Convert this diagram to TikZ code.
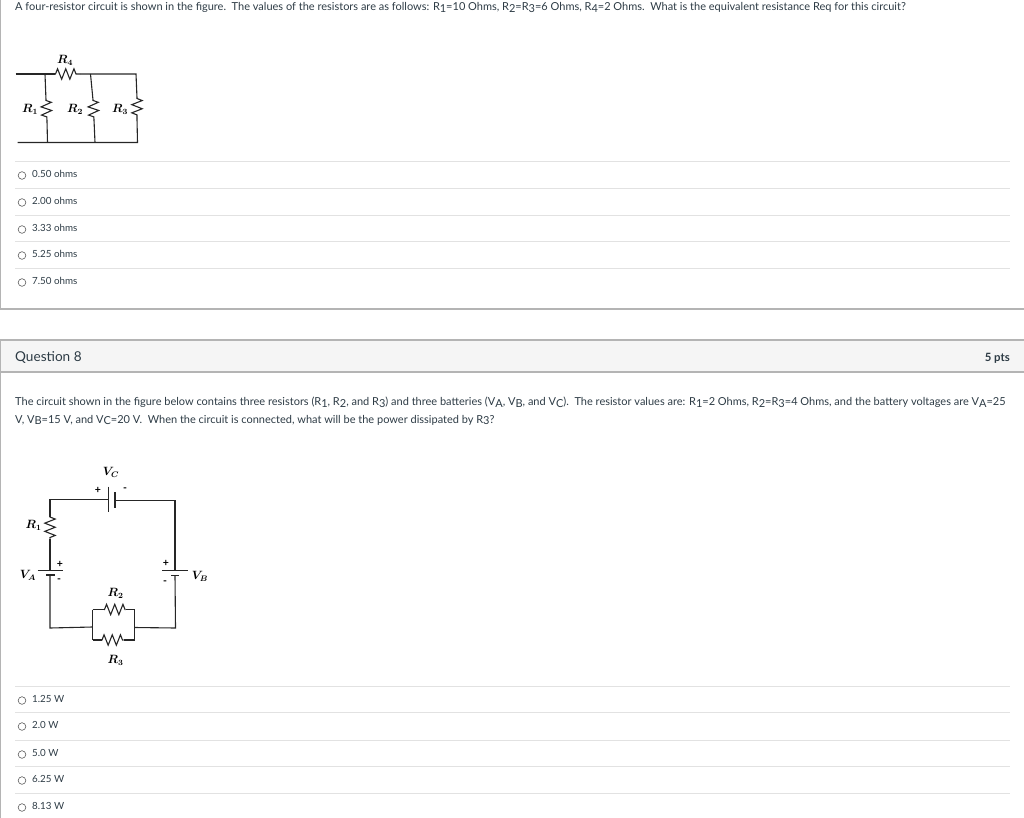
\documentclass[tikz,border=0pt]{standalone}
\usepackage{fontspec}
\setmainfont{Lato}
\usetikzlibrary{decorations.pathmorphing}
\definecolor{framegray}{HTML}{B4B4B4}
\definecolor{rulegray}{HTML}{E2E2E2}
\definecolor{headgray}{HTML}{F5F5F5}
\definecolor{inkgray}{HTML}{2D3B45}
\newcommand{\lowsub}[1]{\raisebox{-1.6pt}{#1}}
\tikzset{
  wire/.style={line width=1.1pt, black!85},
  resistor/.style={wire, decorate, decoration={zigzag, amplitude=5.2pt, segment length=8.2pt, pre length=0.5pt, post length=0.5pt}},
  plate/.style={line width=1.2pt, black!85},
  frame/.style={line width=1.2pt, framegray},
  rowrule/.style={line width=0.7pt, rulegray},
  bodytext/.style={anchor=base west, inner sep=0pt, text=inkgray, font=\fontsize{11}{13}\selectfont},
  choicetext/.style={anchor=west, inner sep=0pt, text=inkgray, font=\fontsize{9.8}{11}\selectfont},
  radio/.style={line width=0.6pt, black!65},
  partlabel/.style={inner sep=0pt, font=\fontsize{11.5}{13}\selectfont\boldmath},
  signlabel/.style={inner sep=0pt, font=\bfseries\fontsize{10.5}{11}\selectfont}
}
\begin{document}
\begin{tikzpicture}[x=1pt,y=-1pt]
    \useasboundingbox (0,0) rectangle (1024,818);

    % --- Panels ---
    \fill[headgray] (0,340) rectangle (1024,372);
    \draw[frame] (0.5,0) -- (0.5,309) -- (1024,309);
    \draw[frame] (0.5,818) -- (0.5,340) -- (1024,340);
    \draw[frame] (0.5,372) -- (1024,372);

    % --- First question ---
    \node[bodytext] (textA) at (15,10.8) {A four-resistor circuit is shown in the figure.\ \ The values of the resistors are as follows: R\lowsub{1}=10 Ohms, R\lowsub{2}=R\lowsub{3}=6 Ohms, R\lowsub{4}=2 Ohms.\ \ What is the equivalent resistance Req for this circuit?};

    % Wire corners of the first circuit
    \coordinate (inT) at (15.5,74);
    \coordinate (inB) at (17.5,142.5);
    \coordinate (r4L) at (55,74);
    \coordinate (r4R) at (80,74);
    \coordinate (t1) at (45,74);
    \coordinate (t2) at (90.5,74);
    \coordinate (t3) at (136,74);
    \coordinate (a1) at (46,100);
    \coordinate (b1) at (47,121);
    \coordinate (c1) at (47.5,142.5);
    \coordinate (a2) at (93,100);
    \coordinate (b2) at (94,120);
    \coordinate (c2) at (95,142.5);
    \coordinate (a3) at (137,98);
    \coordinate (b3) at (137,119);
    \coordinate (c3) at (137.5,142.5);

    \draw[wire] (inT) -- (r4L);
    \draw[resistor] (r4L) -- (r4R);
    \draw[wire] (r4R) -- (t3) -- (a3);
    \draw[resistor] (a3) -- (b3);
    \draw[wire] (b3) -- (c3) -- (inB);
    \draw[wire] (t1) -- (a1);
    \draw[resistor] (a1) -- (b1);
    \draw[wire] (b1) -- (c1);
    \draw[wire] (t2) -- (a2);
    \draw[resistor] (a2) -- (b2);
    \draw[wire] (b2) -- (c2);

    \node[partlabel] (lblR4) at (65,60) {$R_4$};
    \node[partlabel] (lblR1) at (30,109) {$R_1$};
    \node[partlabel] (lblR2) at (75,109) {$R_2$};
    \node[partlabel] (lblR3) at (120,109) {$R_3$};

    % --- Choices of the first question ---
    \foreach \y/\txt in {161/0.50 ohms,188/2.00 ohms,215/3.33 ohms,241/5.25 ohms,268/7.50 ohms} {
      \draw[rowrule] (15,\y) -- (1010,\y);
      \draw[radio] (22,\y+14.5) circle (3.8);
      \node[choicetext] (choice\y) at (32,\y+13) {\txt};
    }

    % --- Second question ---
    \node[anchor=base west, inner sep=0pt, text=inkgray, font=\fontsize{13.6}{15}\selectfont] (qtitle) at (15,361) {Question 8};
    \node[anchor=base east, inner sep=0pt, text=inkgray, font=\bfseries\fontsize{11.4}{13}\selectfont] (qpts) at (1010,361) {5 pts};
    \node[bodytext] (textB) at (15,405.5) {The circuit shown in the figure below contains three resistors (R\lowsub{1}, R\lowsub{2}, and R\lowsub{3}) and three batteries (V\lowsub{A}, V\lowsub{B}, and V\lowsub{C}).\ \ The resistor values are: R\lowsub{1}=2 Ohms, R\lowsub{2}=R\lowsub{3}=4 Ohms, and the battery voltages are V\lowsub{A}=25};
    \node[bodytext] (textC) at (15,423) {V, V\lowsub{B}=15 V, and V\lowsub{C}=20 V.\ \ When the circuit is connected, what will be the power dissipated by R\lowsub{3}?};

    % Wire corners of the second circuit
    \coordinate (cornerTL) at (50,499.5);
    \coordinate (cornerTR) at (175,500.5);
    \coordinate (cornerBL) at (50,628);
    \coordinate (cornerBR) at (175.5,628);
    \coordinate (vcP) at (108.5,499.5);
    \coordinate (vcN) at (115,500.5);
    \coordinate (vaP) at (50,570.5);
    \coordinate (vaN) at (50,575);
    \coordinate (vbP) at (175,570.5);
    \coordinate (vbN) at (175,575.5);
    \coordinate (r1T) at (50,516.5);
    \coordinate (r1B) at (50,538.5);
    \coordinate (boxTL) at (92.5,609.5);
    \coordinate (boxBL) at (92.5,640);
    \coordinate (boxTR) at (134.5,609.5);
    \coordinate (boxBR) at (134.5,640);
    \coordinate (boxL) at (92.5,627);
    \coordinate (boxR) at (134.5,627.5);
    \coordinate (r2L) at (104,609.5);
    \coordinate (r2R) at (125.5,609.5);
    \coordinate (r3L) at (101.5,640);
    \coordinate (r3R) at (123.5,640);

    \draw[wire] (vcP) -- (cornerTL) -- (r1T);
    \draw[resistor] (r1T) -- (r1B);
    \draw[wire] (r1B) -- (vaP);
    \draw[wire] (vcN) -- (cornerTR) -- (vbP);
    \draw[wire] (vaN) -- (cornerBL) -- (boxL);
    \draw[wire] (vbN) -- (cornerBR) -- (boxR);
    \draw[wire] (boxTL) -- (boxBL);
    \draw[wire] (boxTR) -- (boxBR);
    \draw[wire] (boxTL) -- (r2L);
    \draw[resistor] (r2L) -- (r2R);
    \draw[wire] (r2R) -- (boxTR);
    \draw[wire] (boxBL) -- (r3L);
    \draw[resistor] (r3L) -- (r3R);
    \draw[wire] (r3R) -- (boxBR);

    % Battery plates
    \draw[plate] (108.5,486.5) -- (108.5,511.5);
    \draw[plate] (115,492) -- (115,508);
    \draw[plate] (37.5,570.5) -- (62.5,570.5);
    \draw[plate] (46,575) -- (54.5,575);
    \draw[plate] (162,570.5) -- (187.5,570.5);
    \draw[plate] (171,575.5) -- (179,575.5);

    \node[partlabel] (lblVc) at (111,472) {$V_C$};
    \node[partlabel] (lblVa) at (28,575) {$V_A$};
    \node[partlabel] (lblVb) at (200,576) {$V_B$};
    \node[partlabel] (lblRa) at (33.5,525) {$R_1$};
    \node[partlabel] (lblRb) at (115.5,593) {$R_2$};
    \node[partlabel] (lblRc) at (115.5,660) {$R_3$};
    \node[signlabel] (plusC) at (98,490) {+};
    \node[signlabel] (minusC) at (125,490) {-};
    \node[signlabel] (plusA) at (60,564) {+};
    \node[signlabel] (minusA) at (59,581) {-};
    \node[signlabel] (plusB) at (166,563) {+};
    \node[signlabel] (minusB) at (165,583) {-};

    % --- Choices of the second question ---
    \foreach \y/\txt in {686/1.25 W,712/2.0 W,740/5.0 W,766/6.25 W,793/8.13 W} {
      \draw[rowrule] (15,\y) -- (1010,\y);
      \draw[radio] (22,\y+14.5) circle (3.8);
      \node[choicetext] (choice\y) at (32,\y+13) {\txt};
    }

\end{tikzpicture}
\end{document}
